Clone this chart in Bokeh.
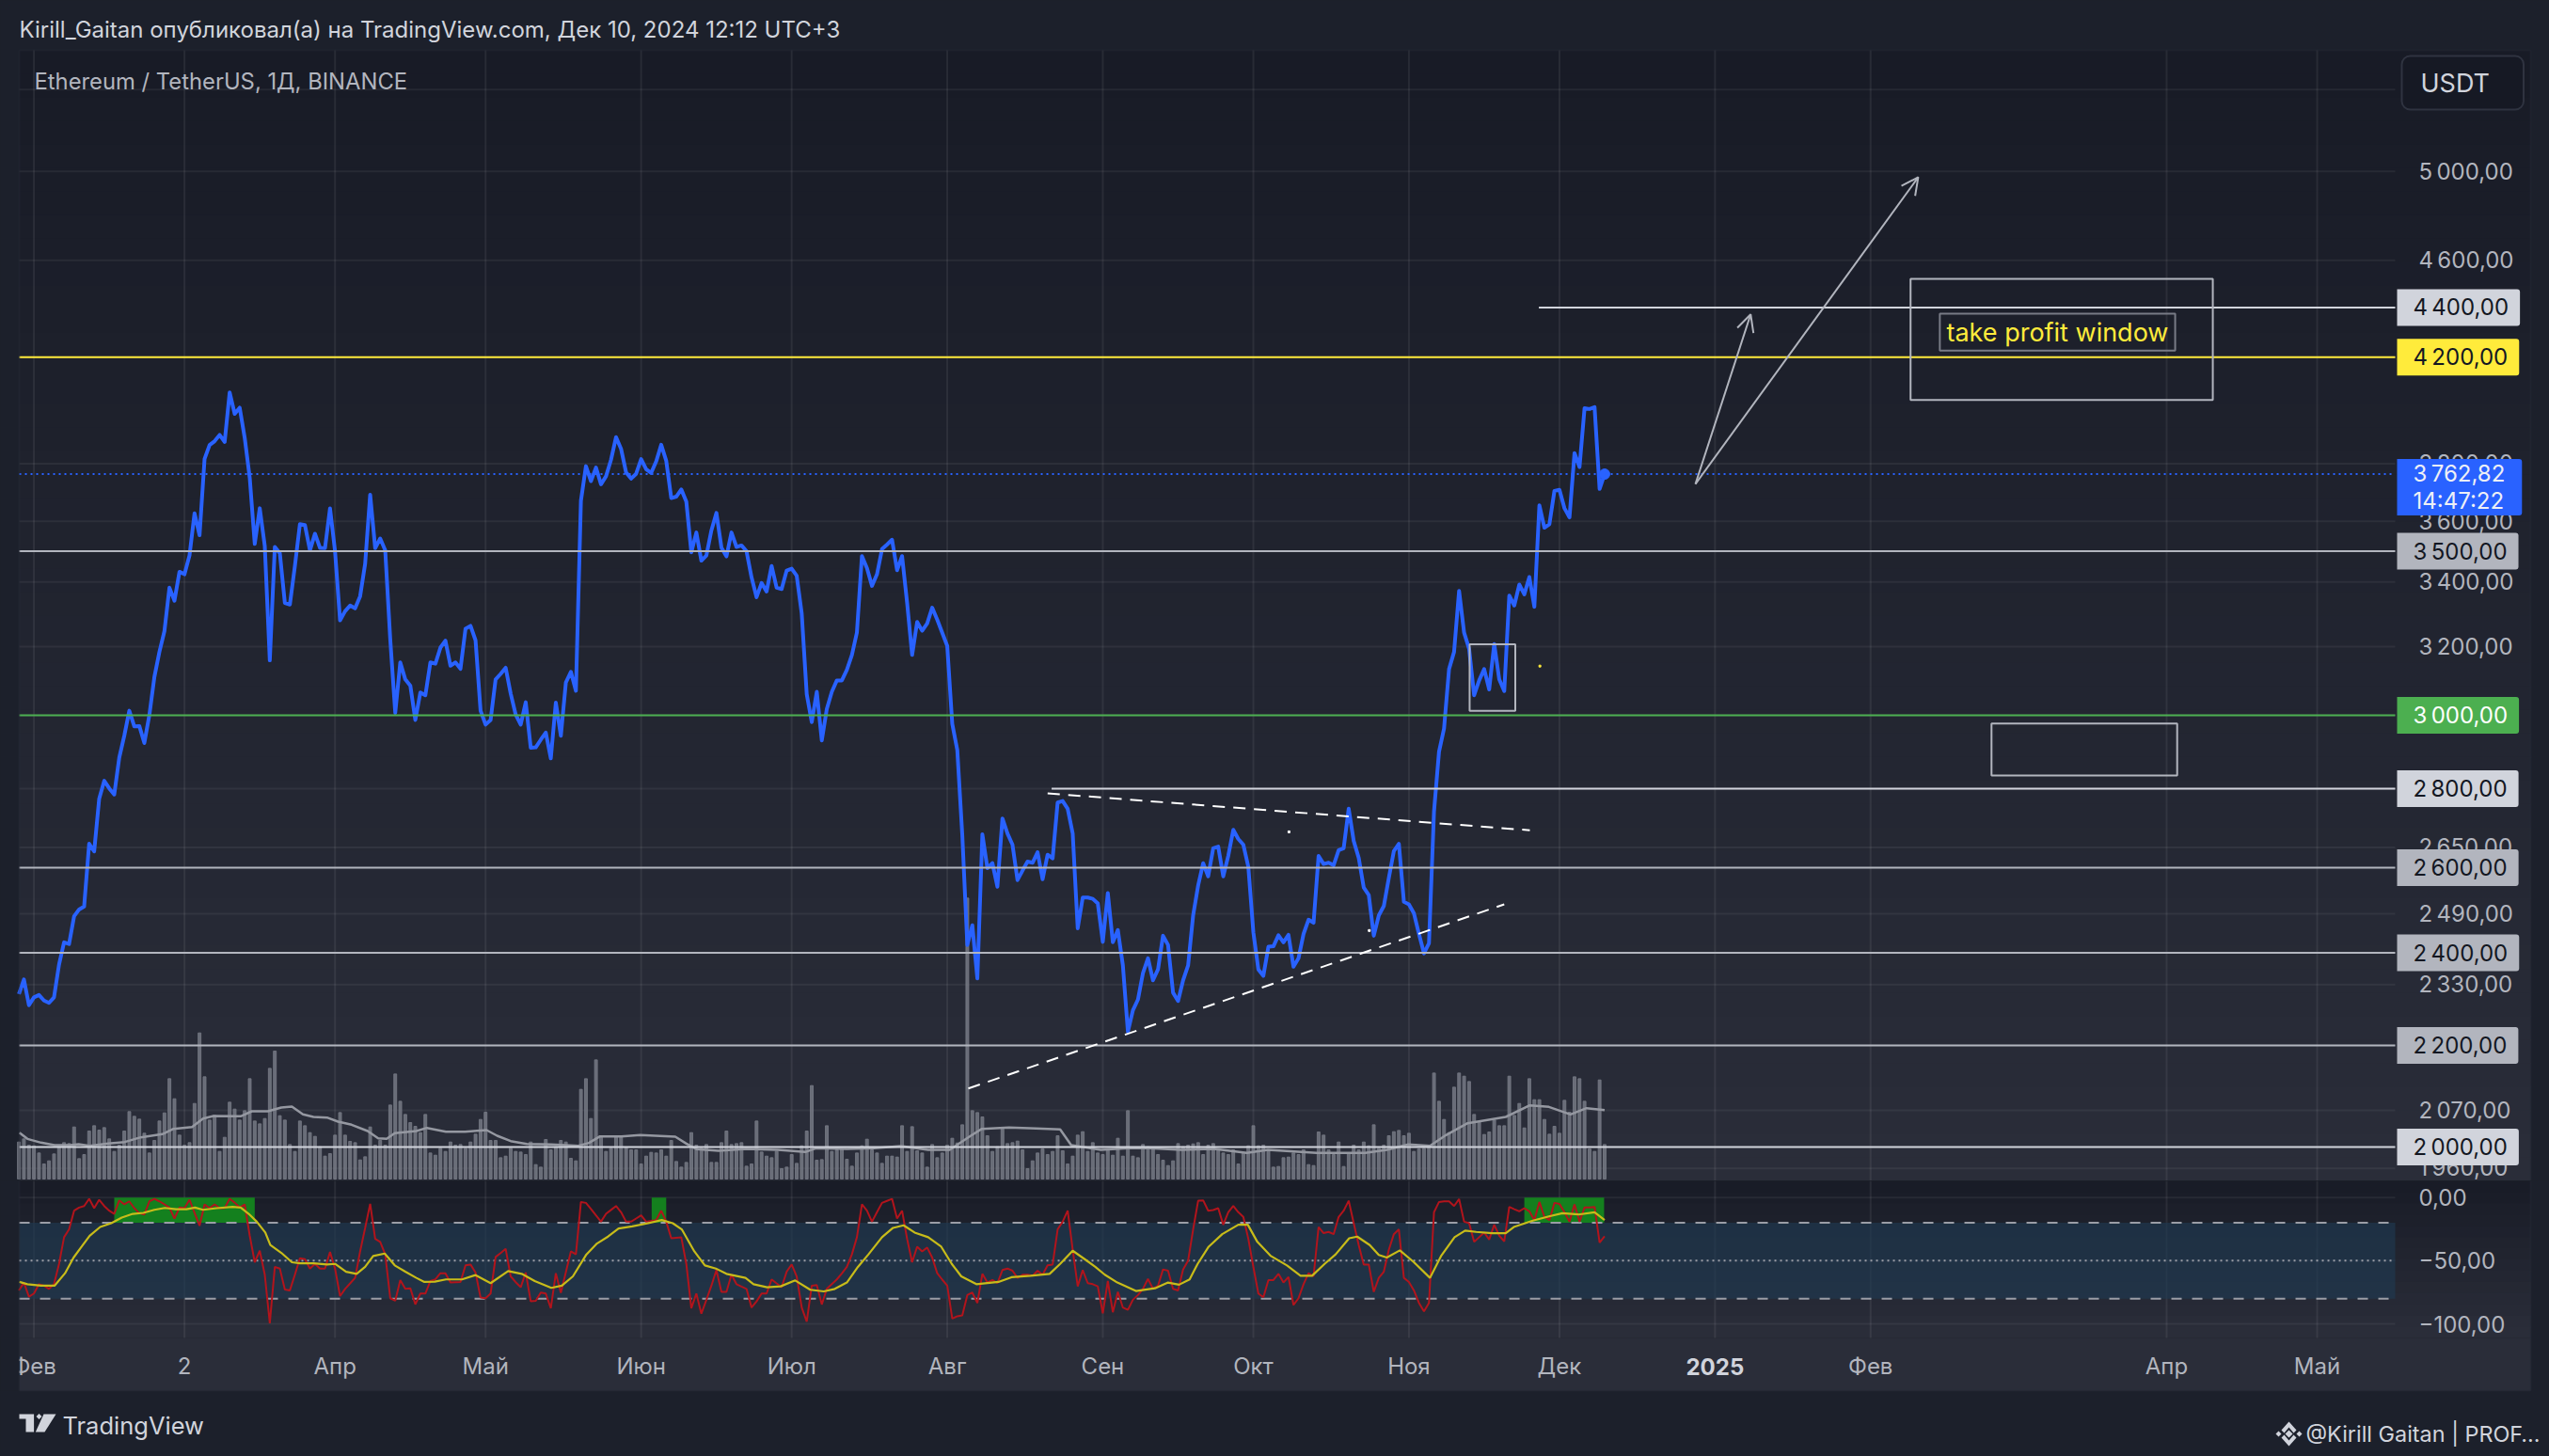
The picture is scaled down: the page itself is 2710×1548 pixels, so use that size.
from bokeh.core.properties import value
from bokeh.embed import file_html
from bokeh.resources import INLINE
from bokeh.plotting import figure
from bokeh.layouts import column
from bokeh.models import (Arrow, BoxAnnotation, FixedTicker, Label, LinearScale,
                          OpenHead, PolyAnnotation, Range1d)

# ---------- data (days are counted from 1 Feb 2024) ----------
first_day = -3
close_prices = [
 2309,2341,2285,
 2302,2307,2295,2290,2302,2374,2424,2420,2484,2500,
 2507,2659,2640,2774,2821,2801,2785,2883,2943,3013,
 2969,2970,2923,3001,3110,3184,3247,3382,3341,3433,
 3425,3486,3627,3553,3817,3867,3881,3904,3878,4063,
 3982,4005,3893,3750,3524,3644,3517,3159,3514,3493,
 3334,3329,3452,3590,3587,3503,3558,3511,3510,3644,
 3500,3280,3308,3326,3317,3355,3459,3691,3510,3542,
 3503,3222,3007,3153,3103,3085,2987,3065,3057,3153,
 3149,3197,3218,3143,3153,3134,3254,3263,3219,3013,
 2974,
 2987,3103,3119,3137,3062,3002,2974,3037,2910,
 2911,2932,2952,2881,3036,2943,3094,3125,3070,3670,
 3791,3738,3786,3727,3755,3814,3896,3853,3769,3747,
 3764,3816,3780,3767,3808,3868,3810,3679,3684,3709,
 3667,3496,3562,3469,3486,3569,3628,3512,3483,3562,
 3514,3519,3500,3415,3352,3397,3370,3452,3382,3378,
 3437,3443,3420,3301,3060,2981,3067,2930,3018,3067,
 3100,3100,3131,3175,3243,3484,3445,3388,3425,3507,
 3522,3538,3438,3484,3335,3175,3275,3248,3270,3319,
 3282,3242,
 3202,2976,2904,2680,2418,2463,2343,2683,
 2599,2611,2554,2723,2685,2657,2570,2593,2615,2612,
 2638,2572,2632,2623,2764,2768,2748,2685,2456,2528,
 2528,2525,2514,2425,2539,2424,2452,2372,2229,2274,
 2297,2355,2388,2339,2363,2439,2418,2312,2294,2339,
 2372,2486,2557,2611,2579,2648,2652,2579,2629,2694,
 2671,2657,2602,2447,2363,2349,2414,2415,2440,2424,
 2441,2369,2388,2443,2476,2469,2629,2609,2612,2606,
 2643,2648,2748,2666,2624,2552,2534,2439,2486,2508,
 2575,2641,2659,2518,2512,2491,2443,2399,2422,2741,
 2899,2963,3133,3184,3372,3242,3193,3057,3100,3133,
 3074,3208,3103,3069,3357,3326,3392,3361,3416,3322,
 3654,3578,3590,3704,3708,3644,3613,3838,3788,4003,
 4000,4007,3711,3762.82,
]
volume_units = [
 118,128,108,
 106,83,48,58,80,103,116,
 113,166,65,78,153,170,156,164,128,88,
 108,153,215,200,191,146,83,123,185,211,
 320,256,140,108,116,241,466,326,188,203,
 88,133,245,223,188,218,320,185,176,193,
 353,408,202,188,110,88,185,170,148,136,
 103,73,81,140,212,140,120,116,61,71,
 166,108,123,108,236,335,248,206,180,168,
 148,206,83,76,98,88,118,108,110,98,
 118,143,190,213,123,123,68,73,98,88,
 86,78,118,46,38,126,93,103,123,118,
 66,58,286,320,193,380,133,88,98,133,
 133,100,93,93,48,73,85,83,93,73,
 123,56,38,53,148,108,98,110,53,53,
 116,153,110,113,116,41,48,185,86,73,
 68,88,33,38,78,50,106,153,298,60,
 62,170,88,93,96,
 63,41,83,106,127,93,83,50,73,73,
 70,170,88,167,90,83,38,110,68,83,
 108,130,115,173,896,218,212,198,138,88,
 103,160,113,116,121,93,33,58,83,96,
 78,88,138,90,48,73,140,151,88,116,
 83,78,93,76,130,73,218,73,68,110,
 103,98,78,60,43,58,113,103,108,112,
 116,78,108,113,93,83,78,93,48,83,
 106,170,106,108,93,38,40,68,70,83,
 78,93,46,43,150,140,93,78,118,40,
 83,108,93,118,106,173,98,108,138,151,
 155,138,146,88,96,98,106,338,248,190,
 148,293,338,328,311,206,183,142,150,188,
 170,170,328,203,241,163,320,253,253,190,
 143,168,146,251,213,326,320,248,96,88,
 316,110,
]
volume_ma_days = [-2.9,-1.3,1.4,4.1,7.3,8.9,11.1,14.8,18.1,21.3,25.6,27.8,31.5,33.7,35.8,41.2,43.4,46.6,49.3,51.4,
 53.6,55.7,58.4,60.6,63.3,66.5,68.6,70.3,71.9,76.2,78.3,82.1,85.9,90.2,92.3,95,98.2,103.1,108.5,110.6,
 112.8,117.1,120.8,127.8,130,132.1,136.4,141.8,148.3,153.7,155.8,162,167.4,172.8,178.2,182.5,186.7,188.9,194.3,199.7,
 204.5,206.7,212.6,218,222.3,228.7,235.2,241.7,245.9,255.6,265.3,269.6,273.9,278.2,281.4,285.7,293.3,298.1,301.9,306.2,
 309.4,313]
volume_ma_values = [148,128,116,108,108,111,106,113,118,133,143,160,166,193,201,200,216,216,228,231,
 206,198,196,183,173,153,130,128,146,153,163,151,151,156,138,121,112,110,106,115,
 136,136,140,135,113,95,90,96,93,86,98,96,98,105,93,93,138,160,164,161,
 158,108,93,98,98,93,96,83,93,83,83,93,110,106,140,178,198,235,230,206,
 226,220]
wpr_values = [
 -73.5,-67.3,-78.5,-76,-68.6,-69.8,-72.3,-68.6,-52.5,-31.4,
 -25.2,-10.4,-7.9,-6.7,-1,-8.4,-1.7,-6.7,-10.4,-12.9,
 -2.2,-5.4,-3,-8.4,-12.4,-13.4,-3,-1,-3,-5.4,
 -7.9,-16.6,-7.9,-8.4,-1.7,-12,-22.3,-5.4,-8.4,-5.4,
 -8.4,-8.4,-1,-4,-7.9,-5.4,-30.2,-51.2,-42.1,-61.1,
 -99.5,-54.9,-56.2,-72.8,-73.5,-61.1,-48,-48.8,-56.2,-52.5,
 -56.2,-56.2,-43.1,-56.2,-78,-72.3,-68,-63.6,-42.6,-24,
 -5,-32.7,-35.1,-45,-79.7,-81.7,-65.3,-72.3,-71.8,-84.6,
 -76,-76,-66.1,-64.8,-59.9,-59.9,-67.3,-67,-66.8,-53.7,
 -53,-59.4,-79.2,-79.7,-76,-47,-44,-40.6,-62.4,-67,
 -71,-59.4,-82.2,-81.7,-75.2,-76,-87.6,-59.9,-75.5,-59,
 -42.6,-45,-3.5,-4.2,-9,-14.1,-19.1,-12.9,-9.8,-6.7,
 -11.6,-19.1,-19.1,-16.6,-14.1,-19.1,-18.5,-17.8,-10.4,-19.1,
 -32.2,-31.8,-31.4,-52.5,-87.6,-76,-92,-81,-69.8,-57.4,
 -74.7,-74.7,-61.1,-68.6,-70.5,-72.3,-87.1,-82.2,-76,-76,
 -64.8,-68,-71,-58.7,-53,-62.4,-87.1,-98.3,-69.8,-69.3,
 -84.6,-72.3,-68.5,-64.8,-60,-54.9,-45,-31.4,-5.4,-10.4,
 -19.1,-11.6,-4.2,-2.6,-1,-16.6,-10.4,-32.7,-51.2,-38.9,
 -42.6,-39.6,-47.5,-59.9,-65,-69.8,-95.8,-94,-93.3,-77.2,
 -75.2,-83.4,-60.4,-67.3,-65.3,-67.8,-57.4,-56.2,-57.9,-63.6,
 -61.1,-61.1,-61.9,-57.9,-61.1,-53.7,-53,-25.2,-19.1,-10.4,
 -41.3,-70.3,-57.4,-67.8,-68.6,-70.3,-91.6,-66.1,-90.8,-74.7,
 -87.1,-88.9,-80.9,-77.2,-72.3,-64.4,-72.3,-69.8,-56.9,-57.9,
 -72.3,-73.5,-56.9,-50,-25.2,-2.5,-2.2,-10.4,-9.9,-8.4,
 -21.5,-11.6,-6.7,-11.6,-15.3,-32.7,-54.9,-76,-79,-65.3,
 -65.3,-60.4,-67.3,-62.9,-85.1,-79.7,-68.6,-59.9,-62.4,-23.3,
 -28.2,-27.2,-29,-15.3,-10.4,-2.5,-20.3,-37.6,-53,-53,
 -74.7,-63.6,-58.7,-41.3,-29,-25.2,-63.6,-66.8,-73.5,-83.4,
 -90.1,-83.4,-11.6,-3.5,-3,-3,-6.7,-1.2,-19.1,-20.3,
 -35.1,-31.4,-27.7,-33.2,-21.5,-30.2,-34.7,-7.4,-9.2,-10.9,
 -8.4,-10.9,-17.8,-3.5,-15.3,-17.8,-4.2,-5,-11.6,-19.1,
 -5.4,-19.1,-7.9,-7.9,-7.4,-35.6,-30.7,
]
wpr_ma_days = [-2.9,-1.3,1.4,4.1,6.2,7.9,9.5,11.1,13.2,15.4,17.5,19.7,21.8,24,26.1,28.3,30.4,32.1,33.7,36.4,
 39.6,41.2,42.8,44.4,46.1,47.1,49.3,51.4,53,55.7,58.4,60,62.2,64.3,66,67.6,69.9,71.9,74,76.2,
 77.8,79.9,82.1,85.3,88,91,94.5,97.2,99.8,103.1,105.2,107.4,110.1,112.2,114.4,116.5,119.2,122.4,125.1,127.3,
 129.1,131.6,133.7,135.9,138,141.8,143.4,146.1,148.8,151.7,154.7,157.4,159.6,162,
 164.2,166.3,169,171.2,173.3,175.5,178.2,180.8,182.9,184.8,187.8,192.2,194.8,198.6,202.4,204.5,207,209.4,211.5,213.4,
 215.9,219.6,223.4,226,228.2,230.3,231.9,234.1,236.8,240,241.9,243.8,246.5,249.7,252.4,254.7,257.2,259.4,262.1,263.7,
 266.2,268,269.6,272.2,275,278.2,280.4,283.1,285.2,287.4,290.6,293.3,294.9,298.7,301.9,304.6,307.8,311,313]
wpr_ma_values = [-66.8,-68.6,-69.8,-69.8,-59.9,-47.5,-38.9,-30.2,-23.3,-20.3,-15.8,-12.9,-12.1,-9.7,-8.2,-9.2,-9.2,-7.9,-9.7,-8.4,
 -7.4,-7.9,-12.9,-19.1,-27.7,-37.6,-43.8,-51.2,-52,-52,-53,-52.5,-58.7,-60.4,-54.9,-46.3,-44.3,-53.7,-58.7,-63.6,
 -66.8,-66.6,-64.8,-64.8,-61.4,-67.8,-58.2,-60.4,-66.1,-71.5,-69.8,-62.4,-45,-36.4,-30.9,-24.5,-22.8,-20.3,-17.8,-20.3,
 -25.2,-42.6,-53.7,-56.2,-60.4,-63.6,-68.6,-71,-70.3,-65.6,-73,-74.3,-72.3,-67.3,
 -54.9,-45,-31.4,-24,-22,-27.7,-31.4,-38.9,-52.5,-62.4,-68.6,-66.8,-63.1,-61.9,-60.4,-52.5,-42.1,-48.8,-54.9,-61.1,
 -67.3,-74,-71.8,-67.3,-69,-64.8,-52.5,-38.9,-29,-21.5,-21.5,-35.1,-46.3,-53.7,-61.9,-61.9,-52.5,-45,-32.2,-30.9,
 -37.6,-45.5,-47.5,-41.8,-51.2,-63.6,-46.3,-31.4,-26.2,-27.2,-28.2,-28.2,-23.3,-18.3,-14.9,-12.4,-13.4,-11.6,-17.8]

level_prices = [4400,4200,3500,3000,2800,2600,2400,2200,2000]
level_labels = ["4\u2009400,00","4\u2009200,00","3\u2009500,00","3\u2009000,00","2\u2009800,00",
                "2\u2009600,00","2\u2009400,00","2\u2009200,00","2\u2009000,00"]
level_start_days = [299.9,None,None,None,202.8,None,None,None,None]
level_colors = ["#d1d4dc","#ffeb3b","#b2b5be","#4caf50","#d1d4dc","#b2b5be","#b2b5be","#b2b5be","#d1d4dc"]
level_text_colors = ["#131722","#131722","#131722","#ffffff","#131722","#131722","#131722","#131722","#131722"]

price_ticks = [5400,5000,4600,4200,3800,3600,3400,3200,3000,2800,2650,2490,2330,2200,2070,1960]
price_tick_labels = ["","5\u2009000,00","4\u2009600,00","","3\u2009800,00","3\u2009600,00","3\u2009400,00","3\u2009200,00",
                     "","","2\u2009650,00","2\u2009490,00","2\u2009330,00","","2\u2009070,00","1\u2009960,00"]
wpr_ticks = [0,-50,-100]
wpr_tick_labels = ["0,00","\u221250,00","\u2212100,00"]
month_days = [0,30,60,90,121,151,182,213,243,274,304,335,366,425,455]
month_labels = ["Фев","2","Апр","Май","Июн","Июл","Авг","Сен","Окт","Ноя","Дек","","Фев","Апр","Май"]
year_day = 335
year_label = "2025"

box_left = [373.97,286.1,390.1]
box_right = [434.2,295.2,427.1]
box_top = [4520,3207,2977]
box_bottom = [4034,3013,2835]
note_left, note_right, note_top, note_bottom = 379.8,426.7,4375,4226
note_text = "take profit window"
trend_x0, trend_y0, trend_x1, trend_y1 = [186.2,202],[2113,2788],[293,298.1],[2512,2693]
arrow_x0, arrow_y0 = 331.1, 3728
arrow_x1, arrow_y1 = [342.1,375.5],[4372,4973]
speck_days, speck_prices, speck_colors = [300.1,250.1,266.1],[3142,2689,2451],["#ffeb3b","#ffffff","#ffffff"]
green_left, green_right = [16,123.1,297],[44,126,312.9]

days = [first_day + i for i in range(len(close_prices))]
assert len(close_prices) == 317 and len(volume_units) == 317 and len(wpr_values) == 317
assert len(volume_ma_days) == len(volume_ma_values) and len(wpr_ma_days) == len(wpr_ma_values)

# ---------- style ----------
OUTER = "#1c202b"
AXIS_TEXT = "#b2b5be"
FONT = "Inter"
X_VIEW = (-6.673, 501.29)      # whole canvas width, in days
XR = (-2.92, 470.55)           # the drawn pane
P_VIEW = (1937.4, 5871)        # whole upper canvas height, in price
PR = (1937.4, 5602)            # the price pane
WR = (-111.2, 13.2)            # the oscillator pane

def mix(c0, c1, t):
    a = [int(c0[i:i+2], 16) for i in (1, 3, 5)]
    b = [int(c1[i:i+2], 16) for i in (1, 3, 5)]
    return "#%02x%02x%02x" % tuple(round(a[i] + (b[i]-a[i])*t) for i in range(3))

def strips(fig, left, right, top, bottom, c0, c1, n):
    for i in range(n):
        t0 = top + (bottom-top)*i/n
        t1 = top + (bottom-top)*(i+1)/n + 1
        fig.add_layout(BoxAnnotation(left=left, right=right, top=t0, bottom=min(t1, bottom),
                       left_units="canvas", right_units="canvas", top_units="canvas", bottom_units="canvas",
                       fill_color=mix(c0, c1, i/(n-1) if n > 1 else 0), fill_alpha=1, line_color=None, level="image"))

def text(fig, x, y, s, size, color, style="normal", align="left", **kw):
    fig.add_layout(Label(x=x, y=y, x_units="canvas", y_units="canvas", text=s, text_font=FONT,
                         text_font_size=f"{size}px", text_color=color, text_font_style=style,
                         text_align=align, text_baseline="middle", **kw))

def poly(fig, pts, color):
    fig.add_layout(PolyAnnotation(xs=[p[0] for p in pts], ys=[p[1] for p in pts], xs_units="canvas", ys_units="canvas",
                                  fill_color=color, fill_alpha=1, line_color=None))

def style_axis(ax, standoff):
    ax.major_label_text_font = FONT
    ax.major_label_text_font_size = "24px"
    ax.major_label_text_color = AXIS_TEXT
    ax.major_label_standoff = standoff
    ax.major_tick_line_color = None
    ax.minor_tick_line_color = None
    ax.axis_line_color = None

# ---------- main pane ----------
p = figure(width=2710, height=1255, output_backend="svg", toolbar_location=None, y_axis_type="log",
           y_axis_location="right", x_range=Range1d(*X_VIEW), y_range=Range1d(*P_VIEW),
           min_border_left=0, min_border_right=0, min_border_top=0, min_border_bottom=0)
p.xaxis.visible = False
p.grid.visible = False
p.border_fill_color = OUTER
p.background_fill_color = OUTER
p.outline_line_color = None
p.yaxis.fixed_location = XR[1]
p.yaxis.ticker = FixedTicker(ticks=price_ticks)
p.yaxis.major_label_overrides = dict(zip(price_ticks, price_tick_labels))
style_axis(p.yaxis, 19)

strips(p, 20, 2690, 53, 1255, "#181b26", "#2a2d39", 48)
p.segment(month_days, [PR[0]]*len(month_days), month_days, [PR[1]]*len(month_days), line_color="#ffffff", line_alpha=0.07, line_width=2)
p.segment([XR[0]]*len(price_ticks), price_ticks, [XR[1]]*len(price_ticks), price_ticks, line_color="#ffffff", line_alpha=0.06, line_width=2)

p.extra_y_ranges = {"vol": Range1d(-6, 3759)}
p.extra_y_scales = {"vol": LinearScale()}
p.vbar(x=days, width=0.56, bottom=0, top=volume_units, y_range_name="vol", color="#787b86", alpha=0.82)
p.line(volume_ma_days, volume_ma_values, y_range_name="vol", line_color="#9598a1", line_width=2.5)

p.line(days, close_prices, line_color="#2962ff", line_width=4, line_join="round")
p.scatter([days[-1]], [close_prices[-1]], size=11, color="#2962ff")
p.line([XR[0], XR[1]], [close_prices[-1]]*2, line_color="#2962ff", line_width=2, line_dash=[2, 4])

p.segment([XR[0] if s is None else s for s in level_start_days], level_prices, [XR[1]]*len(level_prices), level_prices,
          line_color=level_colors, line_width=2)
p.quad(left=box_left, right=box_right, top=box_top, bottom=box_bottom, fill_alpha=0, line_color="#b2b5be", line_width=2)
p.quad(left=[note_left], right=[note_right], top=[note_top], bottom=[note_bottom], fill_alpha=0, line_color="#787b86", line_width=2)
p.text([(note_left+note_right)/2], [(note_top*note_bottom)**0.5], text=[note_text], text_color="#ffeb3b", text_font=value(FONT),
       text_font_size="27px", text_align="center", text_baseline="middle")
for xa, ya, xb, yb in zip(trend_x0, trend_y0, trend_x1, trend_y1):
    p.line([xa, xb], [ya, yb], line_color="#ffffff", line_width=2, line_dash=[13, 9])
for x1, y1 in zip(arrow_x1, arrow_y1):
    p.add_layout(Arrow(x_start=arrow_x0, y_start=arrow_y0, x_end=x1, y_end=y1, line_color="#b2b5be", line_width=2,
                       end=OpenHead(size=18, line_color="#b2b5be", line_width=2)))
p.scatter(speck_days, speck_prices, marker="square", size=2, color=speck_colors)

for price, lab, col, tcol in zip(level_prices, level_labels, level_colors, level_text_colors):
    p.add_layout(Label(x=2548, x_units="canvas", y=price, y_units="data", text=lab, text_font=FONT, text_font_size="24px",
                       text_color=tcol, text_baseline="middle", background_fill_color=col, padding=(17, 12, 5, 5),
                       border_radius=(0, 3, 3, 0)))
p.add_layout(Label(x=2548, x_units="canvas", y=close_prices[-1], y_units="data", y_offset=16,
                   text="3\u2009762,82\n14:47:22", text_font=FONT, text_font_size="24px", text_color="#eef0f6",
                   text_line_height=1.0, text_baseline="top", background_fill_color="#2962ff", padding=(17, 18, 1, 1),
                   border_radius=(0, 3, 3, 0)))

p.add_layout(BoxAnnotation(left=20, right=2690, top=53, bottom=1400, left_units="canvas", right_units="canvas",
                           top_units="canvas", bottom_units="canvas", fill_alpha=0, line_color="#2c303b", line_width=2))
text(p, 20, 31, "Kirill_Gaitan опубликовал(а) на TradingView.com, Дек 10, 2024 12:12 UTC+3", 24, "#d1d4dc")
text(p, 36, 86, "Ethereum / TetherUS, 1Д, BINANCE", 23.8, AXIS_TEXT)
p.add_layout(Label(x=2553, y=87.5, x_units="canvas", y_units="canvas", text="USDT", text_font=FONT, text_font_size="27px",
                   text_color="#d1d4dc", text_baseline="middle", background_fill_color="#161924",
                   border_line_color="#2f3340", border_line_width=2, padding=(20, 36, 12, 12), border_radius=9))

# ---------- indicator pane and time axis ----------
q = figure(width=2710, height=293, output_backend="svg", toolbar_location=None, y_axis_location="right",
           x_range=p.x_range, y_range=Range1d(-205, WR[1]),
           min_border_left=0, min_border_right=0, min_border_top=0, min_border_bottom=0)
q.grid.visible = False
q.border_fill_color = OUTER
q.background_fill_color = OUTER
q.outline_line_color = None
q.yaxis.fixed_location = XR[1]
q.xaxis.fixed_location = WR[0]
q.yaxis.ticker = FixedTicker(ticks=wpr_ticks)
q.yaxis.major_label_overrides = dict(zip(wpr_ticks, wpr_tick_labels))
q.xaxis.ticker = FixedTicker(ticks=month_days)
q.xaxis.major_label_overrides = dict(zip(month_days, month_labels))
style_axis(q.yaxis, 19)
style_axis(q.xaxis, 9)

strips(q, 20, 2690, 0, 167, "#191c27", "#2a2d39", 14)
strips(q, 20, 2690, 167, 223, "#2a2d39", "#2a2d39", 1)
q.segment(month_days, [WR[0]]*len(month_days), month_days, [WR[1]]*len(month_days), line_color="#ffffff", line_alpha=0.07, line_width=2)
q.segment([XR[0]]*len(wpr_ticks), wpr_ticks, [XR[1]]*len(wpr_ticks), wpr_ticks, line_color="#ffffff", line_alpha=0.06, line_width=2)

q.quad(left=[XR[0]], right=[XR[1]], top=[-20], bottom=[-80], fill_color="#1e3a52", fill_alpha=0.62, line_color=None)
q.quad(left=green_left, right=green_right, top=[0]*3, bottom=[-20]*3, fill_color="#14801e", line_color=None)
for level in (-20, -80):
    q.line([XR[0], XR[1]], [level, level], line_color="#9a9da6", line_width=2, line_dash=[11, 11])
q.line([XR[0], XR[1]], [-50, -50], line_color="#9a9da6", line_width=2, line_dash=[2, 4])
q.line(days, wpr_values, line_color="#b2141c", line_width=2)
q.line(wpr_ma_days, wpr_ma_values, line_color="#c8bc1a", line_width=2.2)

q.add_layout(BoxAnnotation(left=0, right=20, top=167, bottom=223, left_units="canvas", right_units="canvas",
                           top_units="canvas", bottom_units="canvas", fill_color=OUTER, fill_alpha=1, line_color=None))
q.add_layout(BoxAnnotation(left=20, right=2690, top=-100, bottom=223, left_units="canvas", right_units="canvas",
                           top_units="canvas", bottom_units="canvas", fill_alpha=0, line_color="#2c303b", line_width=2))
q.add_layout(Label(x=year_day, x_units="data", y=197.5, y_units="canvas", text=year_label, text_font=FONT, text_font_size="24px",
                   text_font_style="bold", text_color="#d1d4dc", text_align="center", text_baseline="middle"))

# logo and watermark
WHITE = "#d1d4dc"
poly(q, [(20,248),(35.6,248),(35.6,267),(27,267),(27,253),(20,253)], WHITE)
poly(q, [(38,250.5),(41,247.5),(44,250.5),(41,253.5)], WHITE)
poly(q, [(46,248),(59,248),(47,267),(37.3,267)], WHITE)
text(q, 66, 260, "TradingView", 25.5, WHITE)
cx, cy = 2433, 269
poly(q, [(cx-8,cy-4),(cx,cy-13),(cx+8,cy-4),(cx+5,cy-1),(cx,cy-7),(cx-5,cy-1)], WHITE)
poly(q, [(cx-8,cy+4),(cx,cy+13),(cx+8,cy+4),(cx+5,cy+1),(cx,cy+7),(cx-5,cy+1)], WHITE)
poly(q, [(cx-4,cy),(cx,cy-4),(cx+4,cy),(cx,cy+4)], WHITE)
poly(q, [(cx-14,cy),(cx-11,cy-3),(cx-8,cy),(cx-11,cy+3)], WHITE)
poly(q, [(cx+8,cy),(cx+11,cy-3),(cx+14,cy),(cx+11,cy+3)], WHITE)
text(q, 2451, 269, "@Kirill Gaitan | PROF\u2026", 23.4, WHITE)

page = column(p, q, spacing=0)
html = file_html(page, INLINE)
html = html.replace("<head>", "<head><style>html,body{background:%s}</style>" % OUTER, 1)
open("out.html", "w").write(html)
